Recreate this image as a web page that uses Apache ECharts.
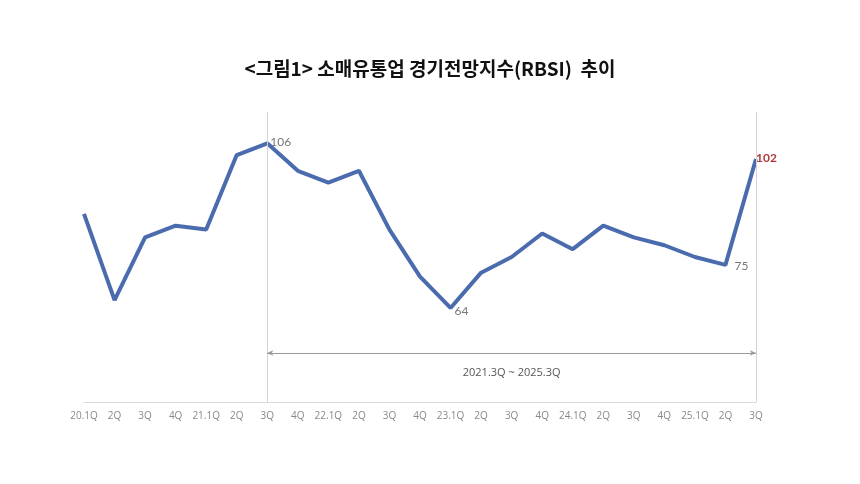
<!DOCTYPE html>
<html>
<head>
<meta charset="utf-8">
<script src="https://cdn.jsdelivr.net/npm/echarts@6/dist/echarts.min.js"></script>
<style>
  html, body { margin: 0; padding: 0; background: #fff; }
  #chart { width: 860px; height: 484px; }
</style>
</head>
<body>
<div id="chart"></div>
<script>
// 분기 라벨
const quarters = ['20.1Q', '2Q', '3Q', '4Q', '21.1Q', '2Q', '3Q', '4Q', '22.1Q', '2Q', '3Q', '4Q',
  '23.1Q', '2Q', '3Q', '4Q', '24.1Q', '2Q', '3Q', '4Q', '25.1Q', '2Q', '3Q']
// RBSI 값
const rbsi = [88, 66, 82, 85, 84, 103, 106, 99, 96, 99, 84, 72,
  64, 73, 77, 83, 79, 85, 82, 80, 77, 75, 102]
// 값 표시할 지점
const labelIdx = [6, 12, 21, 22]
const rangeStart = 6
const rangeEnd = 22
const rangeText = '2021.3Q ~ 2025.3Q'

let lineColor = '#4a6cae'

// 라벨 위치 미세조정
let labelPos = {
  6: { distance: 3, offset: [0, -1] },
  12: { distance: 3, offset: [1, 3] },
  21: { distance: 9, offset: [0, 1] },
  22: { distance: 0, offset: [0, -1] }
}

let seriesData = rbsi.map(function (v, i) {
  if (labelIdx.indexOf(i) < 0) return v
  let isLast = i === rbsi.length - 1
  return {
    value: v,
    label: {
      show: true,
      position: 'right',
      distance: labelPos[i].distance,
      offset: labelPos[i].offset,
      color: isLast ? '#b03a3a' : '#777',
      fontWeight: isLast ? 'bold' : 'normal',
      fontSize: 12,
      fontFamily: 'Lato'
    }
  }
})

let myChart = echarts.init(document.getElementById('chart'))
let option = {
  animation: false,
  title: {
    text: '<그림1> 소매유통업 경기전망지수(RBSI)  추이',
    left: 'center',
    top: 54,
    textStyle: {
      fontSize: 19,
      fontWeight: 'bold',
      color: '#111',
      fontFamily: 'Noto Sans CJK KR'
    }
  },
  grid: { left: 84, right: 104, top: 112, bottom: 82 },
  xAxis: {
    type: 'category',
    data: quarters,
    boundaryGap: false,
    axisLine: { lineStyle: { color: '#d9d9d9' } },
    axisTick: { show: false },
    axisLabel: {
      color: '#888',
      fontSize: 10,
      margin: 9,
      interval: 0,
      fontFamily: 'Open Sans'
    }
  },
  yAxis: {
    type: 'value',
    min: 40,
    max: 114,
    show: false,
    splitLine: { show: false }
  },
  series: [
    {
      type: 'line',
      data: seriesData,
      symbol: 'circle',
      symbolSize: 0,
      showSymbol: true,
      itemStyle: { color: lineColor },
      lineStyle: { color: lineColor, width: 4 },
      z: 3,
      markLine: {
        silent: true,
        symbol: 'none',
        label: { show: false },
        lineStyle: { color: '#d4d4d4', width: 1, type: 'solid' },
        data: [
          { xAxis: rangeStart },
          { xAxis: rangeEnd },
          [
            {
              coord: [rangeStart, 52.5],
              symbol: 'arrow',
              symbolSize: [4, 6],
              lineStyle: { color: '#999', width: 1 },
              label: {
                show: true,
                position: 'insideMiddleBottom',
                formatter: rangeText,
                color: '#555',
                fontSize: 11,
                distance: 14,
                fontFamily: 'Open Sans'
              }
            },
            { coord: [rangeEnd, 52.5], symbol: 'arrow', symbolSize: [4, 6] }
          ]
        ]
      }
    }
  ]
}
myChart.setOption(option)
</script>
</body>
</html>
